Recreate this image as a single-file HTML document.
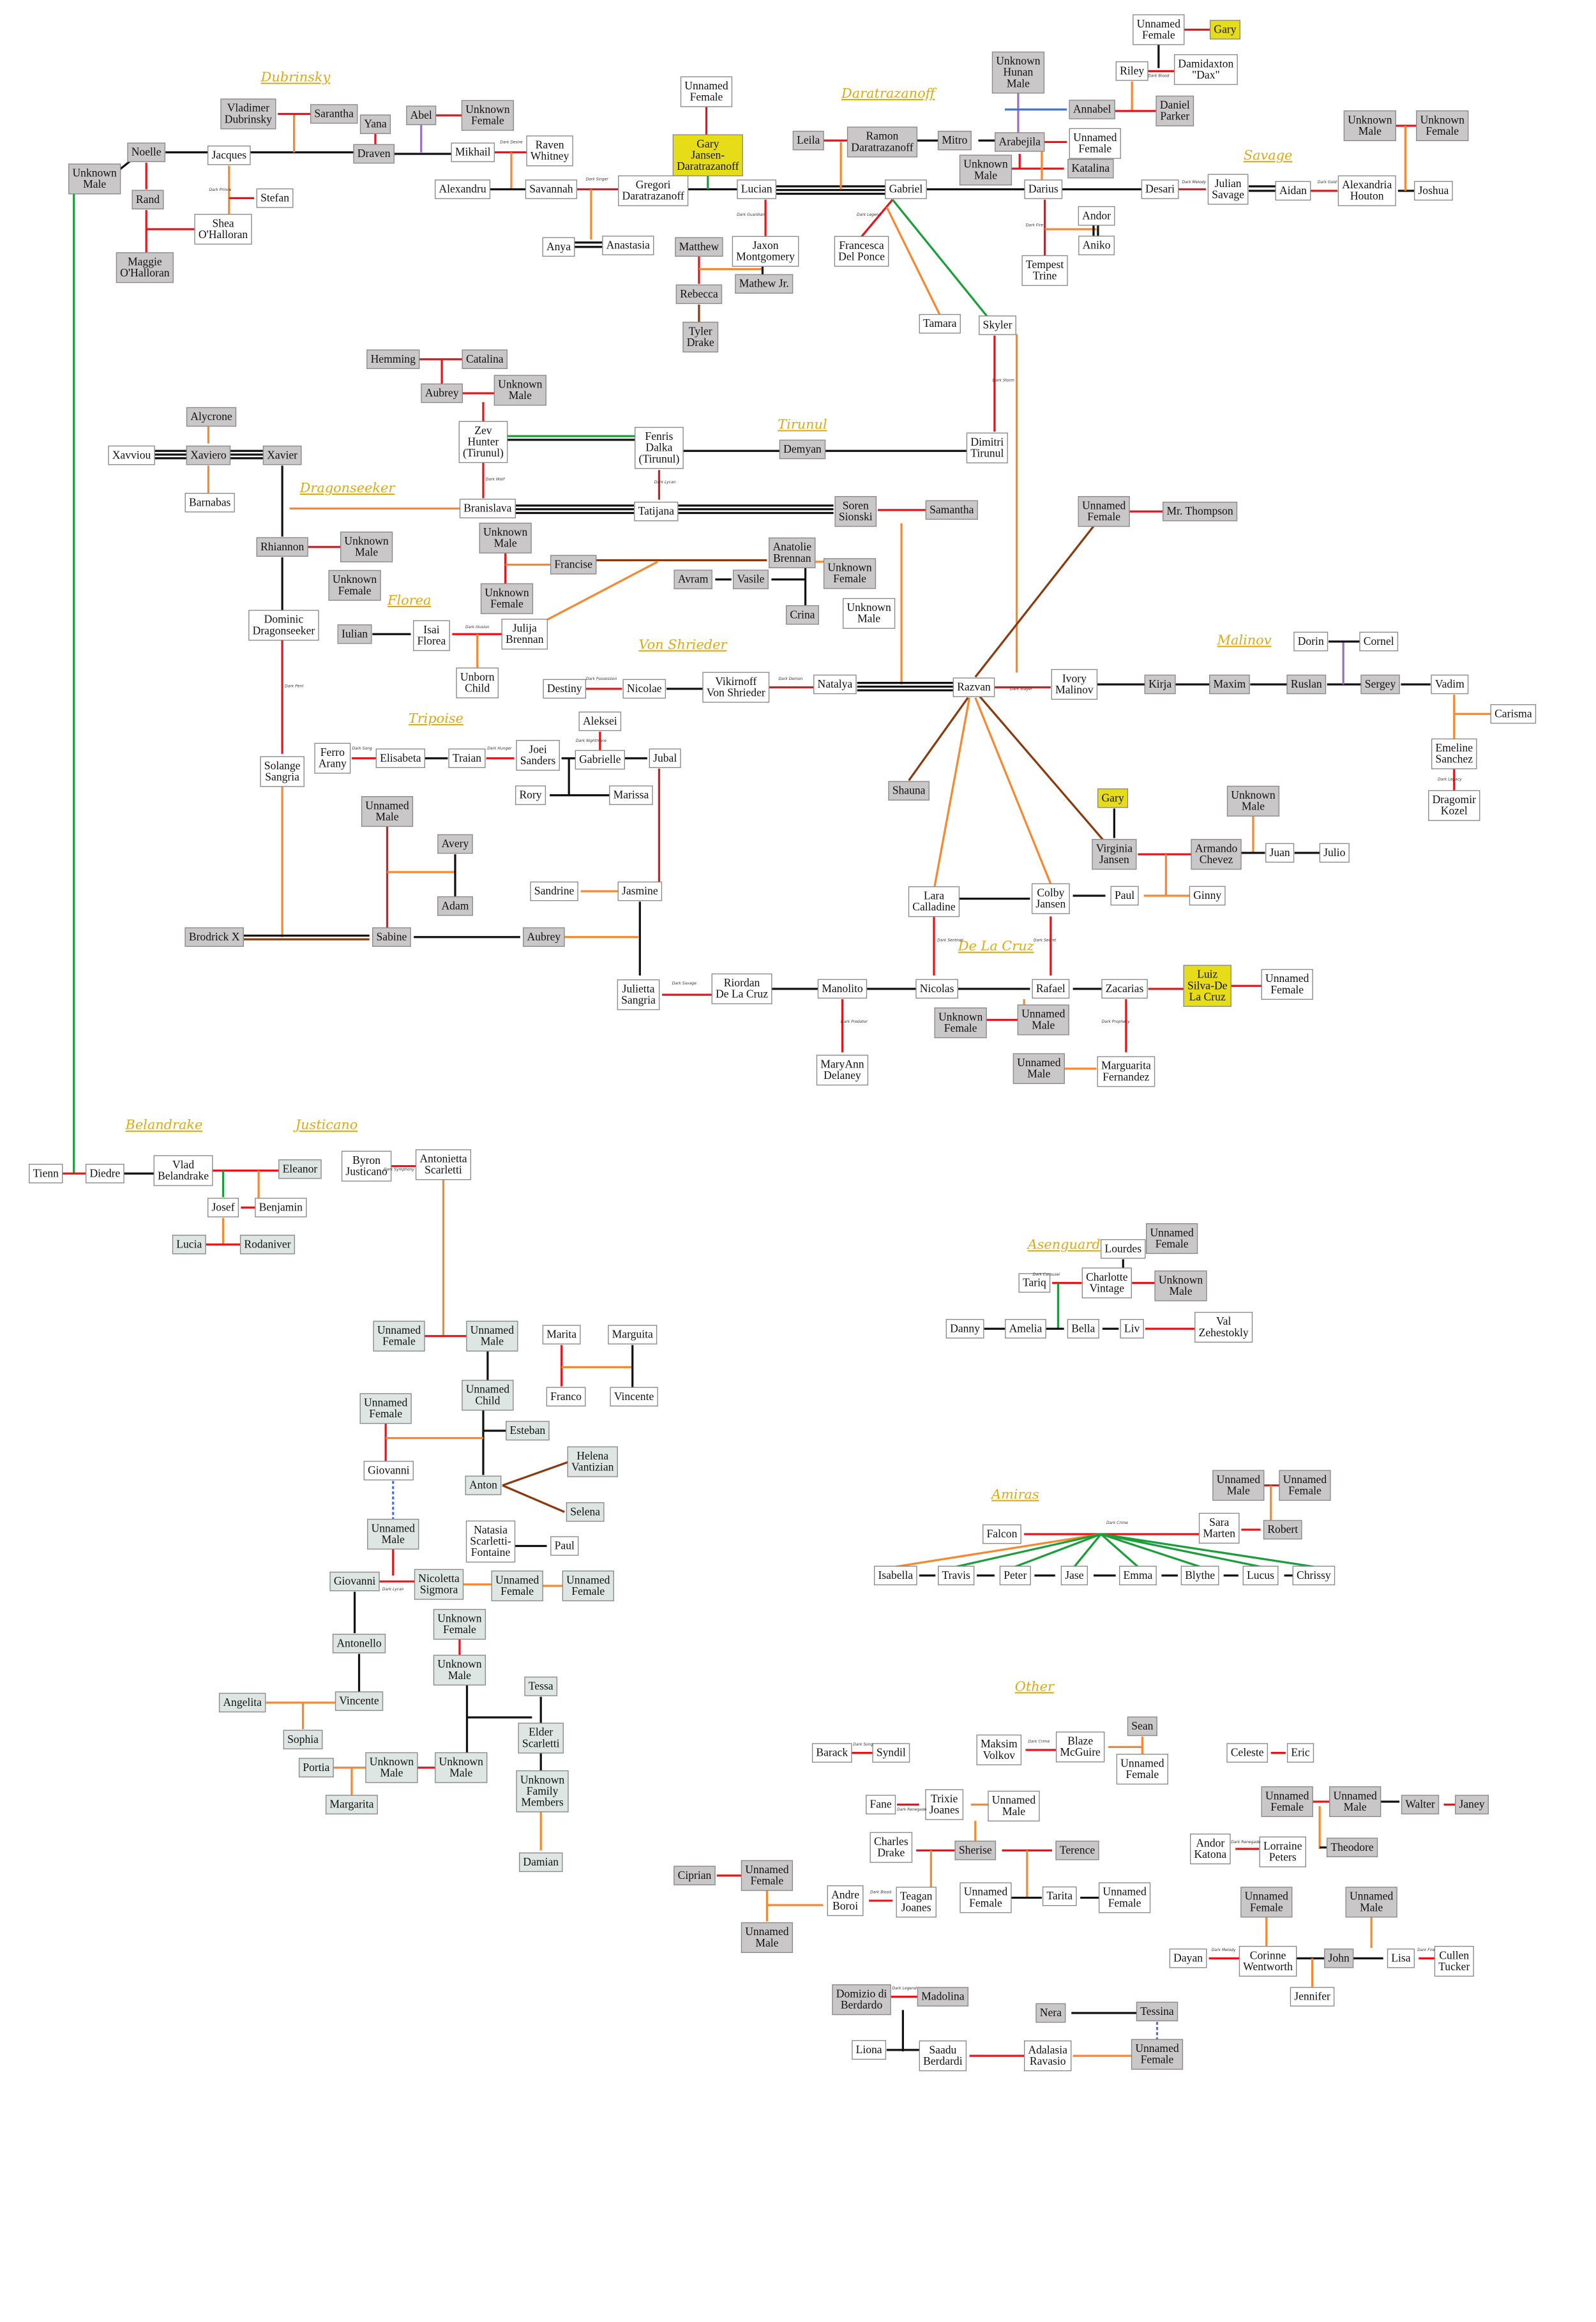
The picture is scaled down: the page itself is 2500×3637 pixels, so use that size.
<!DOCTYPE html>
<html><head><meta charset="utf-8"><style>
html,body{margin:0;padding:0;background:#fff}
svg{display:block}
</style></head><body>
<svg id="s" width="2500" height="3637" viewBox="0 0 1080 1571" xmlns="http://www.w3.org/2000/svg">
<rect width="1080" height="1571" fill="#fff"/>
<g id="L"></g><g id="N"></g><g id="T" font-family="'DejaVu Serif',serif" font-style="italic" fill="#dcaa10" font-size="9" text-decoration="underline">
<text x="200" y="55" text-anchor="middle">Dubrinsky</text>
<text x="601" y="66" text-anchor="middle">Daratrazanoff</text>
<text x="858" y="108" text-anchor="middle">Savage</text>
<text x="543" y="290" text-anchor="middle">Tirunul</text>
<text x="235" y="333" text-anchor="middle">Dragonseeker</text>
<text x="277" y="409" text-anchor="middle">Florea</text>
<text x="462" y="439" text-anchor="middle">Von Shrieder</text>
<text x="842" y="436" text-anchor="middle">Malinov</text>
<text x="295" y="489" text-anchor="middle">Tripoise</text>
<text x="674" y="643" text-anchor="middle">De La Cruz</text>
<text x="111" y="764" text-anchor="middle">Belandrake</text>
<text x="221" y="764" text-anchor="middle">Justicano</text>
<text x="720" y="845" text-anchor="middle">Asenguard</text>
<text x="687" y="1014" text-anchor="middle">Amiras</text>
<text x="700" y="1144" text-anchor="middle">Other</text>
</g>
<g font-family="'DejaVu Sans',sans-serif" font-style="italic" font-size="2.6" fill="#333" text-anchor="middle">
<text x="404" y="122">Dark Singer</text><text x="508" y="146">Dark Guardian</text><text x="588" y="146">Dark Legend</text>
<text x="149" y="129">Dark Prince</text><text x="346" y="97">Dark Desire</text><text x="700" y="153">Dark Fire</text>
<text x="784" y="52">Dark Blood</text><text x="808" y="124">Dark Melody</text><text x="898" y="124">Dark Gold</text>
<text x="335" y="325">Dark Wolf</text><text x="450" y="327">Dark Lycan</text><text x="679" y="258">Dark Storm</text>
<text x="323" y="425">Dark Illusion</text><text x="407" y="460">Dark Possession</text><text x="535" y="460">Dark Demon</text>
<text x="691" y="467">Dark Slayer</text><text x="199" y="465">Dark Peril</text><text x="245" y="507">Dark Song</text>
<text x="338" y="507">Dark Hunger</text><text x="400" y="502">Dark Nightmare</text><text x="981" y="528">Dark Legacy</text>
<text x="463" y="666">Dark Savage</text><text x="643" y="637">Dark Sentinel</text><text x="707" y="637">Dark Secret</text>
<text x="578" y="692">Dark Predator</text><text x="755" y="692">Dark Prophecy</text><text x="270" y="792">Dark Symphony</text>
<text x="708" y="863">Dark Carousel</text><text x="756" y="1031">Dark Crime</text><text x="584" y="1181">Dark Song</text>
<text x="703" y="1179">Dark Crime</text><text x="617" y="1225">Dark Renegade</text><text x="596" y="1281">Dark Blood</text>
<text x="843" y="1247">Dark Renegade</text><text x="828" y="1320">Dark Melody</text><text x="965" y="1320">Dark Fire</text>
<text x="612" y="1346">Dark Legend</text><text x="266" y="1076">Dark Lycan</text>
</g>
</svg>
<script>
var C={K:"#111",R:"#e8141b",O:"#f7882f",G:"#1a9e3a",B:"#8b3a0e",P:"#9a6fc0",U:"#5070d0"};
var Ls=[
[784,30,784,46,"K"],[774,48,800,48,"R"],[800,20,820,20,"R"],[766,55,766,75,"O"],[752,75,783,75,"R"],
[689,62,689,90,"P"],[680,74,722,74,"U"],[662,95,676,95,"K"],[704,96,722,96,"R"],[690,104,690,114,"R"],[680,114,720,114,"R"],[705,100,705,128,"O"],
[112,103,240,103,"K"],[199,77,199,103,"O"],[188,77,212,77,"R"],[254,90,254,98,"R"],[285,84,285,103,"P"],[294,78,316,78,"R"],
[266,104,306,104,"K"],[334,103,358,103,"R"],[346,103,346,128,"O"],[330,128,358,128,"K"],[388,128,422,128,"R"],[400,128,400,162,"O"],
[388,164,412,164,"K"],[388,167,412,167,"K"],[462,128,500,128,"K"],[479,116,479,128,"G"],[478,70,478,93,"R"],
[524,126,600,126,"K"],[524,128.5,600,128.5,"K"],[524,131,600,131,"K"],[569,96,569,128,"O"],[556,95,577,95,"R"],[618,95,636,95,"K"],
[627,128,694,128,"K"],[718,128,773,128,"K"],[797,128,816,128,"R"],[845,126,866,126,"K"],[845,129,866,129,"K"],[887,129,905,129,"R"],
[946,129,958,129,"K"],[940,85,962,85,"R"],[951,85,951,129,"O"],[707,135,707,175,"R"],[707,155,742,155,"O"],[740,150,740,162,"K"],[743,150,743,162,"K"],
[518,135,518,160,"R"],[473,173,473,192,"R"],[473,182,516,182,"O"],[516,180,516,187,"K"],[473,206,473,220,"B"],
[604,135,583,160,"R"],[600,140,636,213,"O"],[604,135,668,214,"G"],[688,226,688,455,"O"],[673,227,673,292,"R"],
[50,130,50,794,"G"],[78,117,88,109,"K"],[99,110,99,128,"R"],[99,142,99,172,"R"],[99,155,135,155,"R"],[155,112,155,145,"O"],[155,134,172,134,"R"],
[282,243,315,243,"R"],[299,243,299,260,"R"],[312,266,338,266,"R"],[327,272,327,286,"R"],[327,313,327,337,"R"],
[341,295,430,295,"G"],[341,297.5,430,297.5,"K"],[462,305,654,305,"K"],[446,318,446,338,"R"],
[347,342,429,342,"K"],[347,344.5,429,344.5,"K"],[347,347,429,347,"K"],[459,342,564,342,"K"],[459,344.5,564,344.5,"K"],[459,347,564,347,"K"],
[594,345,630,345,"R"],[196,344,315,344,"O"],
[103,305,127,305,"K"],[103,307.5,127,307.5,"K"],[103,310,127,310,"K"],[155,305,178,305,"K"],[155,307.5,178,307.5,"K"],[155,310,178,310,"K"],
[141,288,141,300,"O"],[141,315,141,334,"O"],[191,315,191,363,"K"],[206,370,233,370,"R"],[191,377,191,413,"K"],[191,433,191,510,"R"],[191,532,191,634,"O"],
[342,371,342,398,"R"],[342,382,375,382,"O"],[401,379,519,379,"B"],[445,380,365,422,"O"],[484,392,495,392,"K"],[522,392,545,392,"K"],[545,382,545,410,"K"],[550,380,575,380,"O"],
[610,354,610,463,"O"],[763,346,790,346,"R"],[740,356,660,458,"B"],
[252,429,278,429,"K"],[306,429,340,429,"R"],[323,429,323,455,"O"],
[396,466,421,466,"R"],[451,466,476,466,"K"],[520,465,551,465,"R"],[580,462,646,462,"K"],[580,464.5,646,464.5,"K"],[580,467,646,467,"K"],
[672,465,711,465,"R"],[742,463,775,463,"K"],[795,463,819,463,"K"],[846,463,871,463,"K"],[898,463,921,463,"K"],[948,463,968,463,"K"],
[909,434,909,463,"P"],[899,434,921,434,"K"],[984,470,984,500,"O"],[984,483,1010,483,"O"],[984,520,984,536,"R"],
[656,472,632,602,"O"],[655,472,615,528,"B"],[660,472,711,598,"O"],[662,470,748,570,"B"],
[754,547,754,567,"K"],[770,578,806,578,"R"],[848,550,848,577,"O"],[840,577,856,577,"K"],[876,577,894,577,"K"],
[648,608,697,608,"K"],[726,606,748,606,"K"],[774,606,805,606,"O"],[789,578,789,606,"O"],[711,620,711,660,"R"],[632,620,632,660,"R"],
[238,513,258,513,"R"],[285,513,303,513,"K"],[329,513,348,513,"R"],[380,513,392,513,"K"],[420,513,438,513,"K"],[406,495,406,508,"R"],
[385,513,385,538,"K"],[372,538,413,538,"K"],[446,520,446,598,"R"],
[262,559,262,634,"R"],[262,590,308,590,"O"],[308,578,308,607,"K"],
[163,633,250,633,"K"],[163,635.5,250,635.5,"B"],[280,634,352,634,"K"],[382,634,432,634,"O"],[433,610,433,660,"K"],[393,603,418,603,"O"],
[448,673,485,673,"R"],[520,669,556,669,"K"],[585,669,620,669,"K"],[648,669,697,669,"K"],[726,669,746,669,"K"],[777,669,802,669,"R"],[832,667,856,667,"R"],
[570,676,570,712,"R"],[665,690,690,690,"R"],[693,676,693,690,"O"],[762,676,762,712,"R"],[718,723,742,723,"O"],
[42,794,60,794,"R"],[83,794,106,794,"K"],[142,792,191,792,"R"],[151,792,151,810,"G"],[175,792,175,817,"O"],[163,817,178,817,"R"],[151,824,151,842,"O"],[138,842,168,842,"R"],
[263,789,282,789,"R"],[300,798,300,904,"O"],[286,904,318,904,"R"],[330,911,330,936,"K"],[327,952,327,998,"K"],[261,960,261,990,"R"],[261,973,327,973,"O"],[327,968,343,968,"K"],
[380,910,380,938,"R"],[380,925,428,925,"O"],[428,910,428,940,"K"],
[340,1005,385,989,"B"],[340,1005,382,1023,"B"],[345,1030,345,1046,"K"],[348,1046,370,1046,"K"],
[266,1002,266,1030,"U"],[266,1048,266,1066,"R"],[254,1070,282,1070,"R"],[312,1072,335,1072,"O"],[365,1073,383,1073,"O"],[240,1077,240,1105,"K"],
[243,1119,243,1145,"K"],[180,1152,228,1152,"O"],[205,1152,205,1170,"O"],[311,1106,311,1123,"R"],[316,1137,316,1190,"K"],[316,1162,360,1162,"K"],
[366,1148,366,1168,"K"],[366,1183,366,1200,"K"],[366,1225,366,1252,"O"],[225,1196,250,1196,"O"],[238,1196,238,1215,"O"],[280,1196,297,1196,"R"],
[776,845,785,845,"O"],[760,852,760,858,"K"],[712,868,732,868,"R"],[716,868,716,899,"G"],[766,868,784,868,"R"],
[666,899,681,899,"K"],[707,899,720,899,"K"],[746,899,757,899,"K"],[775,899,810,899,"R"],
[693,1038,812,1038,"R"],[745,1038,606,1060,"O"],[745,1038,647,1060,"G"],[745,1038,687,1060,"G"],[745,1038,727,1060,"G"],[745,1038,770,1060,"G"],
[745,1038,812,1060,"G"],[745,1038,853,1060,"G"],[745,1038,889,1060,"G"],
[622,1066,633,1066,"K"],[661,1066,673,1066,"K"],[700,1066,714,1066,"K"],[740,1066,755,1066,"K"],[786,1066,797,1066,"K"],[828,1066,838,1066,"K"],[869,1066,876,1066,"K"],
[852,1005,869,1005,"R"],[860,1005,860,1030,"O"],[840,1035,853,1035,"R"],
[576,1186,591,1186,"R"],[694,1184,715,1184,"R"],[750,1182,773,1182,"O"],[773,1175,773,1190,"O"],[860,1186,870,1186,"R"],
[607,1221,622,1221,"R"],[657,1221,670,1221,"O"],[620,1252,646,1252,"R"],[630,1252,630,1286,"O"],[678,1252,712,1252,"R"],[660,1232,660,1246,"O"],
[695,1252,695,1284,"O"],[681,1284,705,1284,"K"],[731,1284,745,1284,"K"],[883,1219,900,1219,"R"],[933,1219,947,1219,"K"],[977,1221,985,1221,"R"],
[836,1251,852,1251,"R"],[893,1222,893,1251,"O"],[893,1250,900,1250,"K"],
[485,1269,502,1269,"R"],[519,1279,519,1300,"O"],[519,1289,557,1289,"O"],[588,1286,604,1286,"R"],
[857,1297,857,1317,"O"],[818,1325,840,1325,"R"],[877,1325,897,1325,"K"],[928,1297,928,1318,"O"],[915,1325,936,1325,"K"],[960,1325,972,1325,"R"],[888,1325,888,1345,"O"],
[603,1351,624,1351,"R"],[611,1360,611,1388,"K"],[600,1387,622,1387,"K"],[656,1391,693,1391,"R"],[726,1391,768,1391,"O"],[725,1362,770,1362,"K"],[783,1368,783,1382,"U"]
];
var F={w:"#ffffff",g:"#c9c7c7",y:"#e6dc17",l:"#dde6e2"};
var N=[
[784,20,"Unnamed|Female","w"],[829,20,"Gary","y"],[766,48,"Riley","w"],[816,47,"Damidaxton|\"Dax\"","w"],[795,75,"Daniel|Parker","g"],[739,74,"Annabel","g"],
[689,49,"Unknown|Hunan|Male","g"],[478,62,"Unnamed|Female","w"],[479,105,"Gary|Jansen-|Daratrazanoff","y"],
[168,77,"Vladimer|Dubrinsky","g"],[226,77,"Sarantha","g"],[254,84,"Yana","g"],[285,78,"Abel","g"],[330,78,"Unknown|Female","g"],
[253,104,"Draven","g"],[99,103,"Noelle","g"],[155,105,"Jacques","w"],[320,103,"Mikhail","w"],[372,102,"Raven|Whitney","w"],
[64,121,"Unknown|Male","g"],[100,135,"Rand","g"],[186,134,"Stefan","w"],[151,155,"Shea|O'Halloran","w"],[98,181,"Maggie|O'Halloran","g"],
[313,128,"Alexandru","w"],[373,128,"Savannah","w"],[442,129,"Gregori|Daratrazanoff","w"],[512,128,"Lucian","w"],[378,167,"Anya","w"],[425,166,"Anastasia","w"],
[473,167,"Matthew","g"],[518,170,"Jaxon|Montgomery","w"],[473,199,"Rebecca","g"],[517,192,"Mathew Jr.","g"],[474,228,"Tyler|Drake","g"],
[547,95,"Leila","g"],[597,96,"Ramon|Daratrazanoff","g"],[646,95,"Mitro","g"],[690,96,"Arabejila","g"],[741,97,"Unnamed|Female","w"],
[667,115,"Unknown|Male","g"],[738,114,"Katalina","g"],[613,128,"Gabriel","w"],[706,128,"Darius","w"],[785,128,"Desari","w"],[831,128,"Julian|Savage","w"],
[875,129,"Aidan","w"],[925,129,"Alexandria|Houton","w"],[970,129,"Joshua","w"],[927,85,"Unknown|Male","g"],[976,85,"Unknown|Female","g"],
[742,146,"Andor","w"],[742,166,"Aniko","w"],[707,183,"Tempest|Trine","w"],[583,170,"Francesca|Del Ponce","w"],[636,219,"Tamara","w"],[675,220,"Skyler","w"],
[266,243,"Hemming","g"],[328,243,"Catalina","g"],[299,266,"Aubrey","g"],[352,264,"Unknown|Male","g"],[327,299,"Zev|Hunter|(Tirunul)","w"],
[446,303,"Fenris|Dalka|(Tirunul)","w"],[543,304,"Demyan","g"],[668,303,"Dimitri|Tirunul","w"],
[143,282,"Alycrone","g"],[89,308,"Xavviou","w"],[141,308,"Xaviero","g"],[191,308,"Xavier","g"],[142,340,"Barnabas","w"],
[330,344,"Branislava","w"],[444,346,"Tatijana","w"],[579,346,"Soren|Sionski","g"],[644,345,"Samantha","g"],[747,346,"Unnamed|Female","g"],[812,346,"Mr. Thompson","g"],
[342,364,"Unknown|Male","g"],[388,382,"Francise","g"],[536,374,"Anatolie|Brennan","g"],[575,388,"Unknown|Female","g"],[469,392,"Avram","g"],[508,392,"Vasile","g"],
[543,416,"Crina","g"],[588,415,"Unknown|Male","w"],[343,405,"Unknown|Female","g"],[191,370,"Rhiannon","g"],[248,370,"Unknown|Male","g"],[240,396,"Unknown|Female","g"],
[240,429,"Iulian","g"],[292,430,"Isai|Florea","w"],[355,429,"Julija|Brennan","w"],[192,423,"Dominic|Dragonseeker","w"],[323,462,"Unborn|Child","w"],
[382,466,"Destiny","w"],[436,466,"Nicolae","w"],[498,465,"Vikirnoff|Von Shrieder","w"],[565,463,"Natalya","w"],[659,465,"Razvan","w"],[727,463,"Ivory|Malinov","w"],
[785,463,"Kirja","g"],[832,463,"Maxim","g"],[884,463,"Ruslan","g"],[934,463,"Sergey","g"],[981,463,"Vadim","w"],[887,434,"Dorin","w"],[933,434,"Cornel","w"],
[1024,483,"Carisma","w"],[984,510,"Emeline|Sanchez","w"],[984,545,"Dragomir|Kozel","w"],
[406,488,"Aleksei","w"],[225,513,"Ferro|Arany","w"],[271,513,"Elisabeta","w"],[316,513,"Traian","w"],[364,511,"Joei|Sanders","w"],[406,514,"Gabrielle","w"],
[450,513,"Jubal","w"],[359,538,"Rory","w"],[427,538,"Marissa","w"],[191,522,"Solange|Sangria","w"],[615,535,"Shauna","g"],[753,540,"Gary","y"],
[848,542,"Unknown|Male","g"],[754,578,"Virginia|Jansen","g"],[823,578,"Armando|Chevez","g"],[866,577,"Juan","w"],[903,577,"Julio","w"],
[262,549,"Unnamed|Male","g"],[308,571,"Avery","g"],[308,613,"Adam","g"],[375,603,"Sandrine","w"],[433,603,"Jasmine","w"],
[632,610,"Lara|Calladine","w"],[711,608,"Colby|Jansen","w"],[761,606,"Paul","w"],[817,606,"Ginny","w"],
[145,634,"Brodrick X","g"],[265,634,"Sabine","g"],[368,634,"Aubrey","g"],
[432,673,"Julietta|Sangria","w"],[502,669,"Riordan|De La Cruz","w"],[570,669,"Manolito","w"],[634,669,"Nicolas","w"],[711,669,"Rafael","w"],[761,669,"Zacarias","w"],
[817,667,"Luiz|Silva-De|La Cruz","y"],[871,666,"Unnamed|Female","w"],[650,692,"Unknown|Female","g"],[706,690,"Unnamed|Male","g"],[703,723,"Unnamed|Male","g"],
[762,725,"Marguarita|Fernandez","w"],[570,724,"MaryAnn|Delaney","w"],
[31,794,"Tienn","w"],[71,794,"Diedre","w"],[124,792,"Vlad|Belandrake","w"],[203,791,"Eleanor","l"],[248,789,"Byron|Justicano","w"],[300,788,"Antonietta|Scarletti","w"],
[151,817,"Josef","w"],[190,817,"Benjamin","w"],[128,842,"Lucia","l"],[181,842,"Rodaniver","l"],
[760,845,"Lourdes","w"],[793,838,"Unnamed|Female","g"],[700,868,"Tariq","w"],[749,868,"Charlotte|Vintage","w"],[799,870,"Unknown|Male","g"],
[653,899,"Danny","w"],[694,899,"Amelia","w"],[733,899,"Bella","w"],[766,899,"Liv","w"],[828,898,"Val|Zehestokly","w"],
[270,904,"Unnamed|Female","l"],[333,904,"Unnamed|Male","l"],[380,903,"Marita","w"],[428,903,"Marguita","w"],[330,944,"Unnamed|Child","l"],
[383,945,"Franco","w"],[429,945,"Vincente","w"],[261,953,"Unnamed|Female","l"],[357,968,"Esteban","l"],[263,995,"Giovanni","w"],[401,989,"Helena|Vantizian","l"],
[327,1005,"Anton","l"],[396,1023,"Selena","l"],[332,1043,"Natasia|Scarletti-|Fontaine","w"],[382,1046,"Paul","w"],[266,1038,"Unnamed|Male","l"],
[240,1070,"Giovanni","l"],[297,1072,"Nicoletta|Sigmora","l"],[350,1073,"Unnamed|Female","l"],[398,1073,"Unnamed|Female","l"],[311,1099,"Unknown|Female","l"],
[243,1112,"Antonello","l"],[311,1130,"Unknown|Male","l"],[366,1141,"Tessa","l"],[164,1152,"Angelita","l"],[243,1151,"Vincente","l"],[366,1176,"Elder|Scarletti","l"],
[205,1177,"Sophia","l"],[214,1196,"Portia","l"],[265,1196,"Unknown|Male","l"],[312,1196,"Unknown|Male","l"],[367,1212,"Unknown|Family|Members","l"],
[238,1221,"Margarita","l"],[366,1260,"Damian","l"],
[838,1005,"Unnamed|Male","g"],[883,1005,"Unnamed|Female","g"],[825,1034,"Sara|Marten","w"],[868,1035,"Robert","g"],[678,1038,"Falcon","w"],
[606,1066,"Isabella","w"],[647,1066,"Travis","w"],[687,1066,"Peter","w"],[727,1066,"Jase","w"],[770,1066,"Emma","w"],[812,1066,"Blythe","w"],[853,1066,"Lucus","w"],[889,1066,"Chrissy","w"],
[773,1168,"Sean","g"],[563,1186,"Barack","w"],[603,1186,"Syndil","w"],[676,1184,"Maksim|Volkov","w"],[731,1182,"Blaze|McGuire","w"],[773,1197,"Unnamed|Female","w"],
[844,1186,"Celeste","w"],[880,1186,"Eric","w"],[596,1221,"Fane","w"],[639,1221,"Trixie|Joanes","w"],[686,1222,"Unnamed|Male","w"],
[871,1219,"Unnamed|Female","g"],[917,1219,"Unnamed|Male","g"],[961,1221,"Walter","g"],[996,1221,"Janey","g"],
[603,1250,"Charles|Drake","w"],[660,1252,"Sherise","g"],[729,1252,"Terence","g"],[819,1251,"Andor|Katona","w"],[868,1253,"Lorraine|Peters","w"],[915,1250,"Theodore","g"],
[470,1269,"Ciprian","g"],[519,1269,"Unnamed|Female","g"],[572,1286,"Andre|Boroi","w"],[620,1287,"Teagan|Joanes","w"],[667,1284,"Unnamed|Female","w"],
[717,1283,"Tarita","w"],[761,1284,"Unnamed|Female","w"],[857,1287,"Unnamed|Female","g"],[928,1287,"Unnamed|Male","g"],[519,1311,"Unnamed|Male","g"],
[804,1325,"Dayan","w"],[858,1327,"Corinne|Wentworth","w"],[906,1325,"John","g"],[948,1325,"Lisa","w"],[984,1327,"Cullen|Tucker","w"],[888,1351,"Jennifer","w"],
[583,1353,"Domizio di|Berdardo","g"],[638,1351,"Madolina","g"],[711,1362,"Nera","g"],[783,1361,"Tessina","g"],[588,1387,"Liona","w"],
[638,1391,"Saadu|Berdardi","w"],[709,1391,"Adalasia|Ravasio","w"],[783,1390,"Unnamed|Female","g"]
];
var ns="http://www.w3.org/2000/svg";
function el(t,a,p){var e=document.createElementNS(ns,t);for(var k in a)e.setAttribute(k,a[k]);p.appendChild(e);return e;}
var gL=document.getElementById("L"),gN=document.getElementById("N");
Ls.forEach(function(l){var at={x1:l[0],y1:l[1],x2:l[2],y2:l[3],stroke:C[l[4]],"stroke-width":1.4};if(l[4]=="U"&&l[0]==l[2])at["stroke-dasharray"]="2,1.5";el("line",at,gL);});
N.forEach(function(n){var lines=n[2].split("|");
var h=lines.length*7.6+5;
var r=el("rect",{x:0,y:n[1]-h/2,width:10,height:h,fill:F[n[3]],stroke:"#8a8a8a","stroke-width":0.6},gN);
var t=el("text",{x:n[0],y:n[1]-h/2+2.5+6,"text-anchor":"middle","font-family":"'Liberation Serif',serif","font-size":7.6,fill:"#111"},gN);
var tss=[];
lines.forEach(function(s,i){var ts=el("tspan",{x:n[0],dy:i?7.6:0},t);ts.textContent=s;tss.push(ts);});
var m=0;tss.forEach(function(ts){try{m=Math.max(m,ts.getComputedTextLength());}catch(e){m=Math.max(m,ts.textContent.length*3.5);}});
if(!m){lines.forEach(function(s){m=Math.max(m,s.length*3.5)});}
var w=m+5;r.setAttribute("x",n[0]-w/2);r.setAttribute("width",w);});
</script>
</body></html>
